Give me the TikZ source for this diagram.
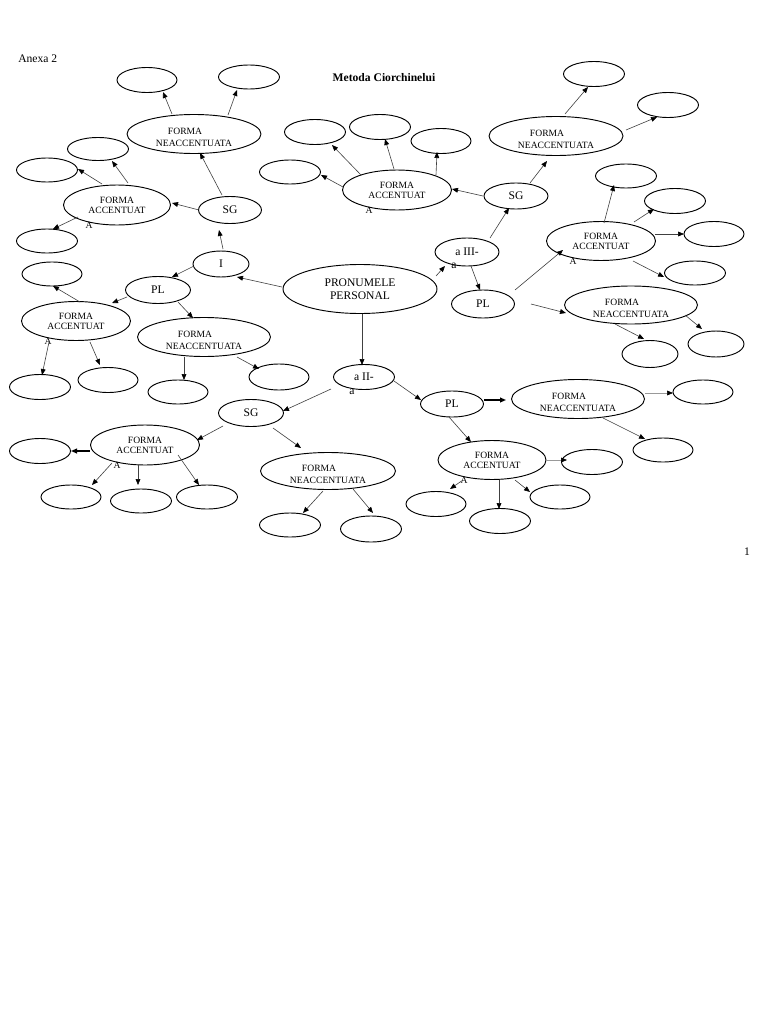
\documentclass[tikz,border=0pt]{standalone}
\usepackage{fontspec}
\setmainfont{Liberation Serif}
\usetikzlibrary{shapes.geometric,arrows.meta,calc}
\newcommand{\cnx}[5][]{\draw[arr,#1] ($(#2)+#3$) -- ($(#4)+#5$);}
\newcommand{\fnText}{\rule{0pt}{9.2pt}\hspace*{9pt}FORMA\\NEACCENTUATA}
\tikzset{
 sz/.style 2 args={minimum width=#1*0.75pt, minimum height=#2*0.75pt},
 ell/.style={draw, line width=0.7pt, ellipse, inner sep=0pt},
 blank/.style={ell},
 big/.style={font=\fontsize{8.7}{9.75}\selectfont},
 small/.style={font=\fontsize{7.2}{8.25}\selectfont},
 fn/.style={ell, font=\fontsize{7.2}{9}\selectfont, align=left},
 fa/.style={ell, font=\fontsize{7.2}{7.6}\selectfont, align=center},
 lvl/.style={ell, big},
 lblA/.style={small, inner sep=0pt},
 lbla/.style={big, inner sep=0pt},
 arr/.style={line width=0.45pt, black!75, -{Triangle[length=4.5pt,width=3.6pt,color=black]}},
}
\begin{document}
\begin{tikzpicture}[x=0.75pt,y=-0.75pt]
\fill[white] (0,0) rectangle (768,1024);
\path[use as bounding box] (0,0) rectangle (768,1024);

% header texts
\node[big, inner sep=0pt, anchor=west] (anexa) at (18,59) {Anexa 2};
\node[big, inner sep=0pt, font=\fontsize{8.7}{9.75}\selectfont\bfseries] (title) at (384,78) {Metoda Ciorchinelui};
\node[big, inner sep=0pt] (pagenr) at (747,552) {1};

% centre
\node[lvl, sz={154}{49}, align=center] (pp) at (360,289) {PRONUMELE\\PERSONAL};

% person I
\node[lvl, sz={56}{26}] (i) at (221,264) {I};
\node[lvl, sz={63}{27}] (sg1) at (230,210) {SG};
\node[lvl, sz={65}{27}] (pl1) at (158,290) {PL};
\node[fn, sz={134}{39}] (fn1) at (194,134) {\fnText};
\node[fa, sz={107}{40}] (fa1) at (117,205) {FORMA\\ACCENTUAT};
\node[lblA] (fa1A) at ($(fa1)+(-28,20)$) {A};
\node[fa, sz={109}{39}] (fa4) at (76,321) {FORMA\\ACCENTUAT};
\node[lblA] (fa4A) at ($(fa4)+(-28,20)$) {A};
\node[fn, sz={133}{39}] (fn4) at (204,337) {\fnText};

\node[blank, sz={60}{25}] (e1) at (147,80) {};
\node[blank, sz={61}{24}] (e2) at (249,77) {};
\node[blank, sz={61}{23}] (e3) at (98,149) {};
\node[blank, sz={61}{24}] (e4) at (47,170) {};
\node[blank, sz={61}{24}] (e5) at (47,241) {};
\node[blank, sz={60}{24}] (e18) at (52,274) {};
\node[blank, sz={61}{25}] (e19) at (40,387) {};
\node[blank, sz={60}{25}] (e20) at (108,380) {};
\node[blank, sz={60}{24}] (e21) at (178,392) {};
\node[blank, sz={60}{26}] (e22) at (279,377) {};

% person III
\node[lvl, sz={64}{28}] (a3) at (467,252) {a III-};
\node[lbla] (a3a) at ($(a3)+(-13,14)$) {a};
\node[lvl, sz={64}{26}] (sg2) at (516,196) {SG};
\node[lvl, sz={63}{28}] (pl3) at (483,304) {PL};
\node[fa, sz={109}{40}] (fa2) at (397,190) {FORMA\\ACCENTUAT};
\node[lblA] (fa2A) at ($(fa2)+(-28,20)$) {A};
\node[fn, sz={134}{39}] (fn2) at (556,136) {\fnText};
\node[fa, sz={109}{39}] (fa3) at (601,241) {FORMA\\ACCENTUAT};
\node[lblA] (fa3A) at ($(fa3)+(-28,20)$) {A};
\node[fn, sz={133}{38}] (fn3) at (631,305) {\fnText};

\node[blank, sz={61}{25}] (e6) at (315,132) {};
\node[blank, sz={61}{25}] (e7) at (380,127) {};
\node[blank, sz={60}{25}] (e8) at (441,141) {};
\node[blank, sz={61}{24}] (e9) at (290,172) {};
\node[blank, sz={61}{25}] (e10) at (594,74) {};
\node[blank, sz={61}{25}] (e11) at (668,105) {};
\node[blank, sz={61}{24}] (e12) at (626,176) {};
\node[blank, sz={61}{25}] (e13) at (675,201) {};
\node[blank, sz={60}{25}] (e14) at (714,234) {};
\node[blank, sz={61}{24}] (e15) at (695,273) {};
\node[blank, sz={56}{27}] (e16) at (650,354) {};
\node[blank, sz={56}{26}] (e17) at (716,344) {};

% person II
\node[lvl, sz={61}{25}] (a2) at (364,377) {a II-};
\node[lbla] (a2a) at ($(a2)+(-12,15)$) {a};
\node[lvl, sz={65}{27}] (sg3) at (251,413) {SG};
\node[lvl, sz={63}{26}] (pl2) at (452,404) {PL};
\node[fa, sz={109}{40}] (fa5) at (145,445) {FORMA\\ACCENTUAT};
\node[lblA] (fa5A) at ($(fa5)+(-28,20)$) {A};
\node[fn, sz={135}{37}] (fn5) at (328,471) {\fnText};
\node[fn, sz={133}{39}] (fn6) at (578,399) {\fnText};
\node[fa, sz={108}{39}] (fa6) at (492,460) {FORMA\\ACCENTUAT};
\node[lblA] (fa6A) at ($(fa6)+(-28,20)$) {A};

\node[blank, sz={61}{25}] (e23) at (40,451) {};
\node[blank, sz={60}{24}] (e24) at (71,497) {};
\node[blank, sz={61}{24}] (e25) at (141,501) {};
\node[blank, sz={61}{24}] (e26) at (207,497) {};
\node[blank, sz={61}{24}] (e27) at (290,525) {};
\node[blank, sz={61}{26}] (e28) at (371,529) {};
\node[blank, sz={60}{24}] (e29) at (703,392) {};
\node[blank, sz={60}{24}] (e30) at (663,450) {};
\node[blank, sz={61}{25}] (e31) at (592,462) {};
\node[blank, sz={60}{24}] (e32) at (560,497) {};
\node[blank, sz={61}{25}] (e33) at (500,521) {};
\node[blank, sz={60}{25}] (e34) at (436,504) {};

% connectors
\cnx{fn1}{(-22,-20)}{e1}{(16,12)}
\cnx{fn1}{(34,-19)}{e2}{(-12,13)}
\cnx{sg1}{(-8,-15)}{fn1}{(6,19)}
\cnx{sg1}{(-31,0)}{fa1}{(55,-2)}
\cnx{fa1}{(11,-22)}{e3}{(14,12)}
\cnx{fa1}{(-15,-21)}{e4}{(31,-1)}
\cnx{fa1}{(-39,12)}{e5}{(6,-12)}
\cnx{i}{(2,-15)}{sg1}{(-11,20)}
\cnx{fa2}{(-36,-15)}{e6}{(17,13)}
\cnx{fa2}{(-3,-21)}{e7}{(5,12)}
\cnx{fa2}{(39,-15)}{e8}{(-4,11)}
\cnx{fa2}{(-54,-3)}{e9}{(31,3)}
\cnx{sg2}{(-33,0)}{fa2}{(55,-1)}
\cnx{a3}{(23,-14)}{sg2}{(-7,12)}
\cnx{fn2}{(9,-22)}{e10}{(-6,13)}
\cnx{fn2}{(70,-6)}{e11}{(-11,12)}
\cnx{sg2}{(14,-13)}{fn2}{(-9,25)}
\cnx{fa3}{(3,-18)}{e12}{(-12,9)}
\cnx{fa3}{(33,-19)}{e13}{(-21,8)}
\cnx{fa3}{(54,-7)}{e14}{(-30,0)}
\cnx{fa3}{(32,20)}{e15}{(-31,4)}
\cnx{pl3}{(32,-14)}{fa3}{(-38,9)}
\cnx{pl3}{(48,0)}{fn3}{(-65,8)}
\cnx{fn3}{(-16,19)}{e16}{(-6,-15)}
\cnx{fn3}{(54,10)}{e17}{(-14,-15)}
\cnx{i}{(-27,2)}{pl1}{(14,-13)}
\cnx{pp}{(-78,-2)}{i}{(16,13)}
\cnx{pl1}{(-31,7)}{fa4}{(36,-18)}
\cnx{pl1}{(20,12)}{fn4}{(-11,-19)}
\cnx{fa4}{(4,-19)}{e18}{(1,12)}
\cnx{fa4}{(-27,21)}{e19}{(2,-12)}
\cnx{fa4}{(14,21)}{e20}{(-8,-15)}
\cnx{fn4}{(-20,20)}{e21}{(6,-12)}
\cnx{fn4}{(33,20)}{e22}{(-20,-8)}
\cnx{a2}{(-33,12)}{sg3}{(32,-2)}
\cnx{pp}{(2,25)}{a2}{(-2,-12)}
\cnx{pp}{(76,-13)}{a3}{(-22,14)}
\cnx{a3}{(4,14)}{pl3}{(-3,-14)}
\cnx{a2}{(30,4)}{pl2}{(-31,-4)}
\cnx[line width=1pt, black]{pl2}{(32,-4)}{fn6}{(-72,1)}
\cnx[black!40]{fn6}{(67,-6)}{e29}{(-30,1)}
\cnx{fn6}{(25,19)}{e30}{(-18,-11)}
\cnx{pl2}{(-3,13)}{fa6}{(-21,-18)}
\cnx[black!40]{fa6}{(54,0)}{e31}{(-25,-2)}
\cnx{fa6}{(23,20)}{e32}{(-30,-5)}
\cnx{fa6}{(7,20)}{e33}{(-1,-12)}
\cnx{fa6}{(-29,20)}{e34}{(14,-15)}
\cnx{sg3}{(-28,13)}{fa5}{(52,-5)}
\cnx{sg3}{(22,15)}{fn5}{(-27,-23)}
\cnx[line width=1pt, black]{fa5}{(-55,6)}{e23}{(31,0)}
\cnx{fa5}{(-33,18)}{e24}{(21,-12)}
\cnx{fa5}{(-7,20)}{e25}{(-3,-16)}
\cnx{fa5}{(33,10)}{e26}{(-8,-12)}
\cnx{fn5}{(-5,20)}{e27}{(13,-12)}
\cnx{fn5}{(25,18)}{e28}{(2,-16)}
\end{tikzpicture}
\end{document}
